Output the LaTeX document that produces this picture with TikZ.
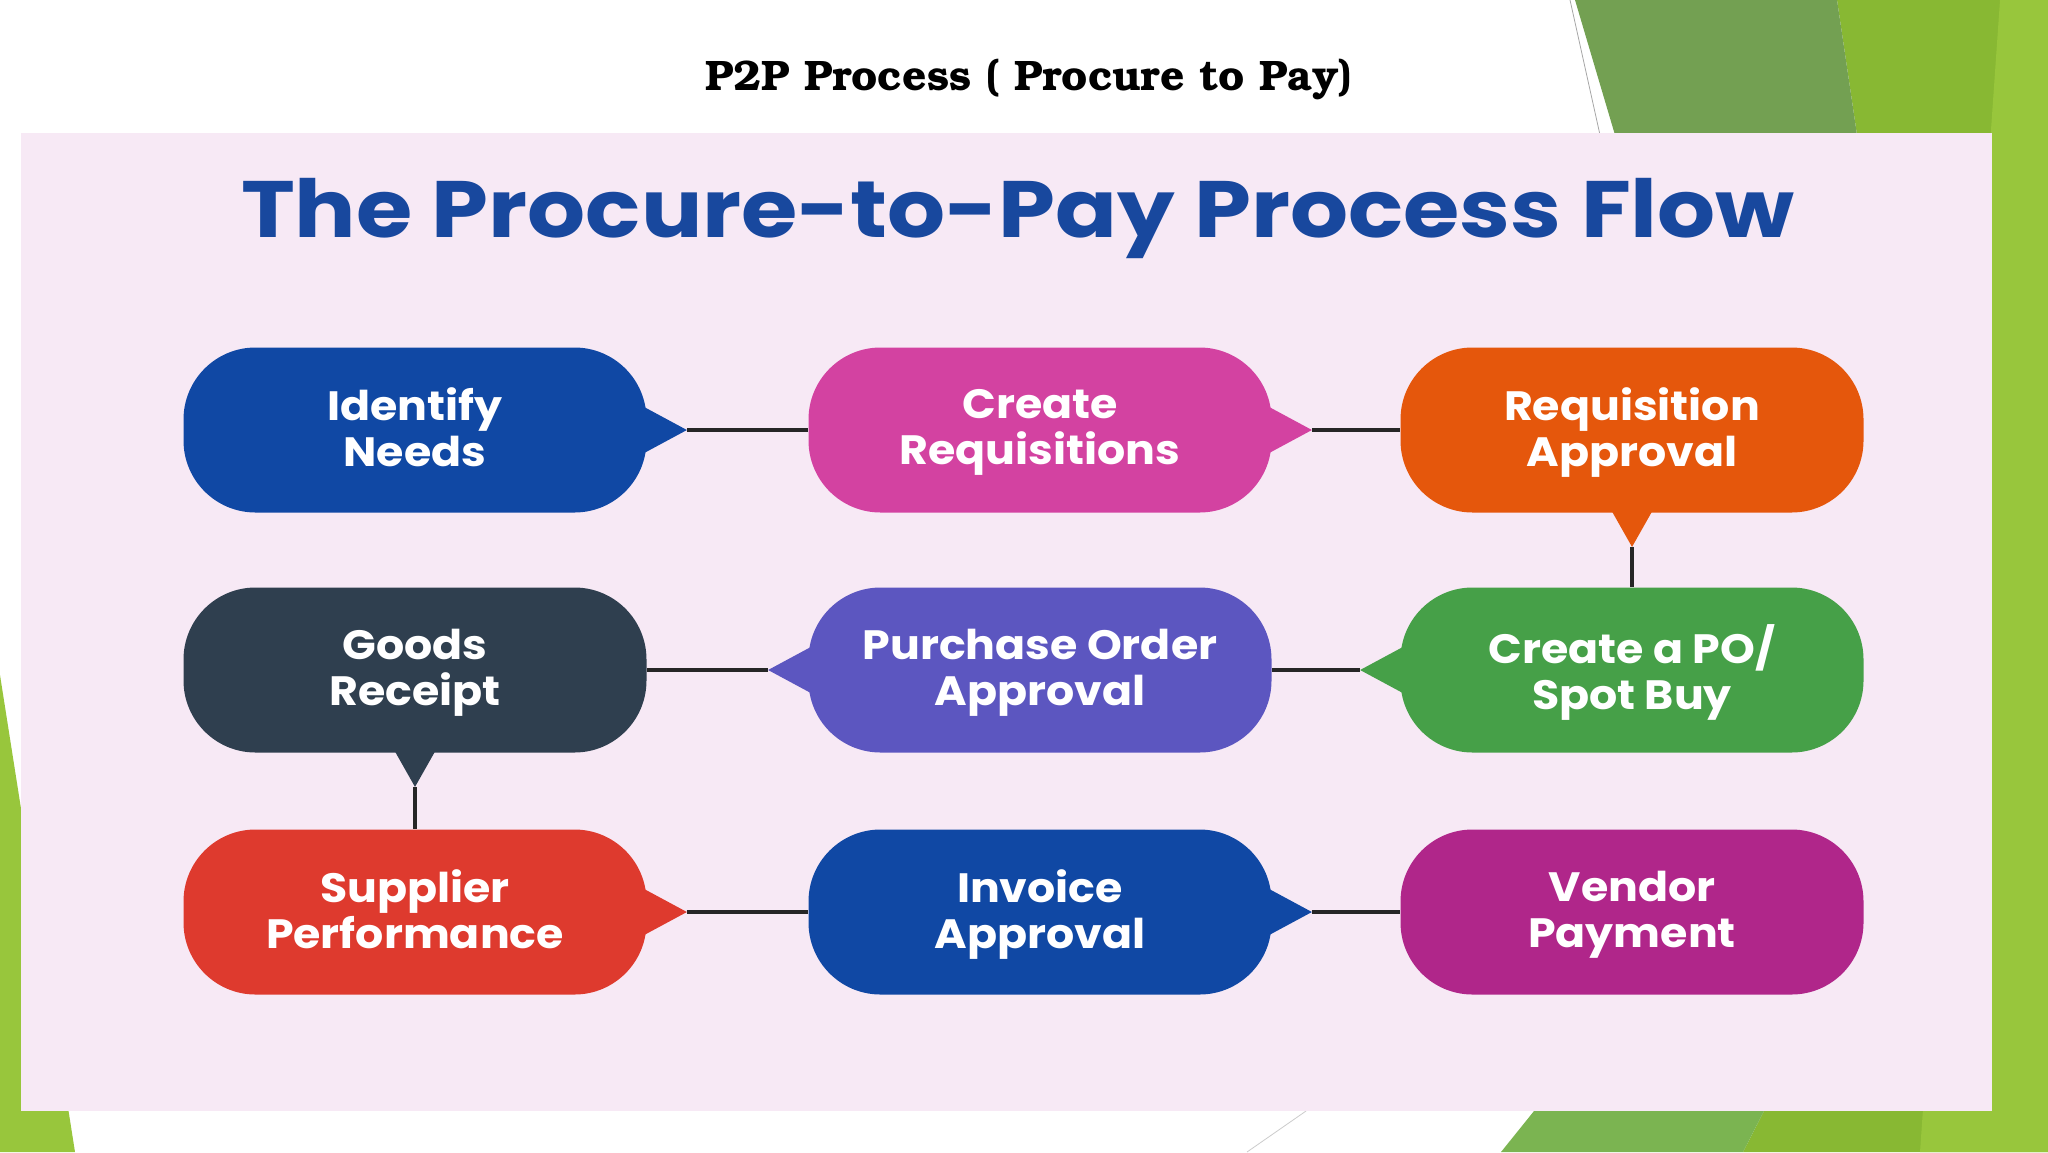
\documentclass[tikz,border=0pt]{standalone}
\usepackage[T1]{fontenc}
\usepackage{fontspec}
\newfontfamily\flowfont{Poppins}[FakeStretch=1.08]
\newfontfamily\headfont{Poppins}[FakeStretch=1.14]
\definecolor{panelpink}{RGB}{247,233,245}
\definecolor{titleblue}{RGB}{24,72,158}
\definecolor{idblue}{RGB}{16,72,164}
\definecolor{reqpink}{RGB}{211,66,161}
\definecolor{apporange}{RGB}{229,87,12}
\definecolor{slate}{RGB}{47,63,79}
\definecolor{popurple}{RGB}{92,86,192}
\definecolor{pogreen}{RGB}{70,160,72}
\definecolor{suppred}{RGB}{222,58,46}
\definecolor{paymagenta}{RGB}{176,38,138}
\definecolor{leafdark}{RGB}{115,160,82}
\definecolor{leafsoft}{RGB}{123,180,81}
\definecolor{leafmid}{RGB}{136,184,51}
\definecolor{leafbright}{RGB}{152,198,60}
\begin{document}
\begin{tikzpicture}
  [x=0.5pt,y=-0.5pt,every node/.style={inner sep=0pt},
   bubble/.style={rectangle,rounded corners=36pt,minimum width=231.5pt,minimum height=82.5pt,
     text=white,align=center,text depth=3pt,font=\flowfont\bfseries\fontsize{20.5}{23}\selectfont},
   link/.style={line width=1.6pt,black!85}]
\fill[white] (0,0) rectangle (2048,1152);
\useasboundingbox (0,0) rectangle (2048,1152);

% slide corners
\fill[leafmid] (1837,0) -- (2048,0) -- (2048,1152) -- (1743,1152) -- (1764,1111) -- (1857,135) -- cycle;
\fill[leafbright] (2000,0) -- (2048,0) -- (2048,1152) -- (1920,1152) -- cycle;
\fill[leafdark] (1575,0) -- (1837,0) -- (1857,135) -- (1615,135) -- cycle;
\fill[leafsoft] (1501,1152) -- (1534,1111) -- (1764,1111) -- (1743,1152) -- cycle;
\fill[leafbright] (0,675) -- (75,1152) -- (0,1152) -- cycle;
\draw[gray!70,thin] (1570,0) -- (1600,135);
\draw[gray!40,thin] (1247,1152) -- (1306,1111);
\fill[panelpink] (21,133) rectangle (1992,1111);

\node (p2p) at (1029,80)
  {\fontencoding{T1}\fontfamily{pbk}\fontseries{b}\fontsize{21.3}{24}\selectfont P2P Process ( Procure to Pay)};
\node (flow)[text=titleblue,font=\headfont\bfseries\fontsize{40}{46}\selectfont] at (1018,218)
  {The Procure-to-Pay Process Flow};

\node (n1)[bubble,fill=idblue] at (415,430) {Identify\\Needs};
\node (n2)[bubble,fill=reqpink] at (1040,430) {Create\\Requisitions};
\node (n3)[bubble,fill=apporange] at (1632,430) {Requisition\\Approval};
\node (n4)[bubble,fill=slate] at (415,670) {Goods\\Receipt};
\node (n5)[bubble,fill=popurple] at (1040,670) {Purchase Order\\Approval};
\node (n6)[bubble,fill=pogreen] at (1632,670) {Create a PO/\\Spot Buy};
\node (n7)[bubble,fill=suppred] at (415,912) {Supplier\\Performance};
\node (n8)[bubble,fill=idblue] at (1040,912) {Invoice\\Approval};
\node (n9)[bubble,fill=paymagenta] at (1632,912) {Vendor\\Payment};

% pointers
\foreach \n/\c in {n1/idblue,n2/reqpink,n7/suppred,n8/idblue}
  {\coordinate (\n-tip) at ([xshift=20pt]\n.east);
   \fill[\c] ([xshift=-6pt,yshift=14pt]\n.east) -- (\n-tip) -- ([xshift=-6pt,yshift=-14pt]\n.east) -- cycle;}
\foreach \n/\c in {n5/popurple,n6/pogreen}
  {\coordinate (\n-tip) at ([xshift=-20pt]\n.west);
   \fill[\c] ([xshift=6pt,yshift=14pt]\n.west) -- (\n-tip) -- ([xshift=6pt,yshift=-14pt]\n.west) -- cycle;}
\foreach \n/\c in {n3/apporange,n4/slate}
  {\coordinate (\n-tip) at ([yshift=-17pt]\n.south);
   \fill[\c] ([xshift=-13pt,yshift=6pt]\n.south) -- (\n-tip) -- ([xshift=13pt,yshift=6pt]\n.south) -- cycle;}

\foreach \from/\to in {n1-tip/n2,n2-tip/n3,n3-tip/n6,n6-tip/n5,n5-tip/n4,n4-tip/n7,n7-tip/n8,n8-tip/n9}
  \draw[link] (\from) -- (\to);
\end{tikzpicture}
\end{document}
